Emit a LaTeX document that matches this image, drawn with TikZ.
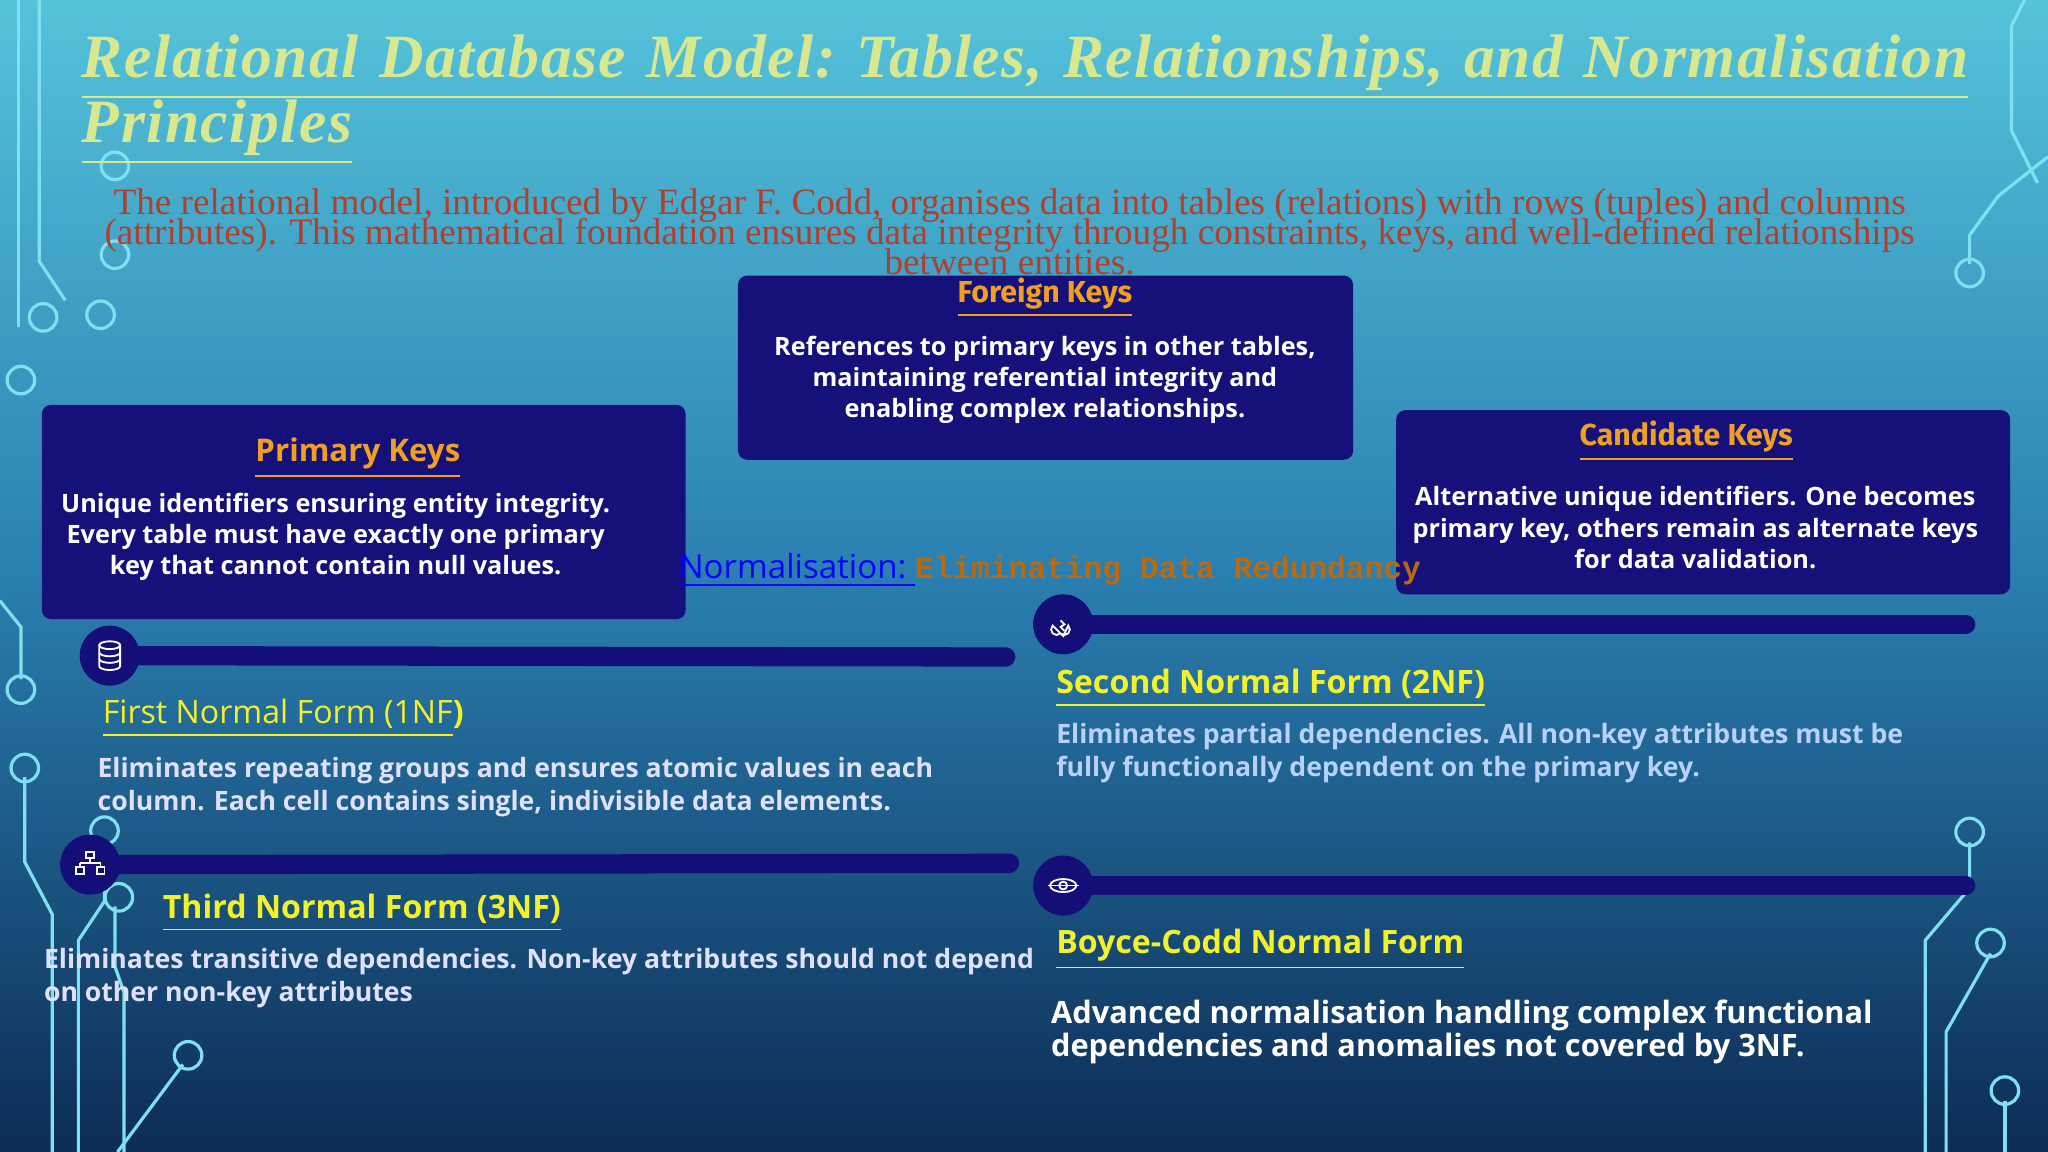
\documentclass[tikz,border=0pt]{standalone}
\usepackage{fontspec}
\setmainfont{Liberation Serif}
\setsansfont{Open Sans}
\setmonofont{Liberation Mono}
\newfontfamily\headf{Fira Sans}
\usetikzlibrary{calc}
\definecolor{navy}{HTML}{15107A}
\definecolor{bar}{HTML}{140F78}
\definecolor{orng}{HTML}{F0A020}
\definecolor{ttl}{HTML}{D8E890}
\definecolor{sub}{HTML}{B0402E}
\definecolor{yel}{HTML}{F2F22A}
\definecolor{cir}{HTML}{7FE0F0}
\definecolor{brn}{HTML}{B86A10}
\definecolor{bgt}{HTML}{55C3DA}
\definecolor{bgm}{HTML}{2A7FB0}
\definecolor{bgb}{HTML}{0C2C55}
\tikzset{
 box/.style={fill=navy,rounded corners=2pt},
 body/.style={text=white,font=\sffamily\bfseries\fontsize{5.5}{6.8}\selectfont,align=center},
 hd/.style={text=orng,font=\headf\bfseries\fontsize{6.6}{8}\selectfont},
 nfh/.style={text=yel,font=\sffamily\fontsize{7}{8.6}\selectfont,anchor=west,inner sep=0},
 nfb/.style={text=white!88!blue,font=\sffamily\bfseries\fontsize{5.8}{7.2}\selectfont,anchor=north west,align=left,inner sep=0},
 barl/.style={draw=bar,line width=4.2pt,line cap=round},
 icon/.style={circle,fill=bar,minimum size=13pt,inner sep=0},
 deco/.style={draw=cir,line width=0.7pt},
 dc/.style={circle,draw=cir,line width=0.7pt,minimum size=6pt,inner sep=0},
}
\begin{document}
\begin{tikzpicture}[x=0.01cm,y=-0.01cm]
\shade[top color=bgt, bottom color=bgb, middle color=bgm] (0,0) rectangle (1568,882);
\useasboundingbox (0,0) rectangle (1568,882);
% decorative circuit
\draw[deco] (14,0)--(14,250); \draw[deco] (30,0)--(30,200)--(50,230);
\draw[deco] (0,460)--(16,480)--(16,520); \draw[deco] (40,882)--(40,700)--(19,660)--(19,595);
\draw[deco] (60,882)--(60,720)--(80,690)--(80,643);
\draw[deco] (95,882)--(95,760)--(88,740)--(88,694); \draw[deco] (90,882)--(140,815);
\draw[deco] (1568,120)--(1530,150)--(1508,180)--(1508,202);
\draw[deco] (1474,882)--(1474,720)--(1508,680)--(1508,645);
\draw[deco] (1490,882)--(1490,790)--(1524,730);
\draw[deco] (1550,0)--(1540,20)--(1540,100)--(1560,140);
\draw[deco] (1535,882)--(1535,843);
\foreach \p [count=\i] in {(88,127),(88,195),(77,241),(16,291),(33,243),(16,528),(19,588),(80,636),(91,687),(144,808),(1508,209),(1508,637),(1524,722),(1535,835)}
  \node[dc] (c\i) at \p {};
% title
\node[anchor=north west,inner sep=0,text width=14.6cm,align=left,text=ttl,
 font=\addfontfeatures{LetterSpace=2.5}\fontsize{13.4}{14.2}\selectfont\bfseries\itshape] (title) at (62,26)
 {\underline{Relational\ Database\ Model:\ Tables,\ Relationships,\ and\ Normalisation}\\\underline{Principles}};
\node[anchor=north,inner sep=0,align=center,text=sub,font=\fontsize{8.1}{8}\selectfont] (subt) at (773,144)
 {The relational model, introduced by Edgar F. Codd, organises data into tables (relations) with rows (tuples) and columns\\[-1.5pt](attributes). This mathematical foundation ensures data integrity through constraints, keys, and well-defined relationships\\[-1.5pt]between entities.};
% boxes
\fill[box] (565,211) rectangle (1036,352);
\node[hd] (fkh) at (800,228) {\underline{Foreign Keys}};
\node[body] (fkb) at (800,291) {References to primary keys in other tables,\\maintaining referential integrity and\\enabling complex relationships.};
\fill[box] (32,310) rectangle (525,474);
\node[hd,font=\sffamily\bfseries\fontsize{6.8}{8}\selectfont] (pkh) at (274,351) {\underline{Primary Keys}};
\node[body] (pkb) at (257,411) {Unique identifiers ensuring entity integrity.\\Every table must have exactly one primary\\key that cannot contain null values.};
\fill[box] (1069,314) rectangle (1539,455);
\node[hd] (ckh) at (1291,338) {\underline{Candidate Keys}};
\node[body] (ckb) at (1298,404) {Alternative unique identifiers. One becomes\\primary key, others remain as alternate keys\\for data validation.};
% normalisation
\node[anchor=west,inner sep=0] (norm) at (519,437) {\textcolor{blue}{\sffamily\fontsize{7.2}{9}\selectfont\underline{Normalisation:\ }}\textcolor{brn}{\ttfamily\bfseries\fontsize{6.8}{9}\selectfont Eliminating Data Redundancy}};
% bars
\node[icon] (i1) at (84,502) {}; \draw[barl] (i1.center)--(770,503) coordinate (e1);
\node[icon] (i2) at (814,478) {}; \draw[barl] (i2.center)--(1505,478) coordinate (e2);
\node[icon] (i3) at (69,662) {}; \draw[barl] (i3.center)--(773,661) coordinate (e3);
\node[icon] (i4) at (814,678) {}; \draw[barl] (i4.center)--(1505,678) coordinate (e4);
\node[icon] at (i1) {}; \node[icon] at (i2) {}; \node[icon] at (i3) {}; \node[icon] at (i4) {};
% icons
\begin{scope}[white,line width=0.4pt]
 \draw (i1)++(-8,-8) -- ++(0,16) arc[start angle=180,end angle=360,x radius=8,y radius=-3] -- ++(0,-16);
 \draw (i1)++(0,-8) ellipse[x radius=8,y radius=3];
 \draw (i1)++(-8,-2.5) arc[start angle=180,end angle=360,x radius=8,y radius=-3];
 \draw (i1)++(-8,2.5) arc[start angle=180,end angle=360,x radius=8,y radius=-3];
 \draw (i2)++(0,9) -- ++(-8,-8) arc[start angle=225,end angle=45,radius=4.2] -- ++(0,0) arc[start angle=135,end angle=-45,radius=4.2] -- cycle;
 \draw (i2)++(-2,-3)--++(3,3)--++(-3,2)--++(3,3);
 \draw (i3)++(-3,-10) rectangle ++(6,5); \draw (i3)++(0,-5)--++(0,4); \draw (i3)++(-8,-1)--++(16,0);
 \draw (i3)++(-8,-1)--++(0,3); \draw (i3)++(8,-1)--++(0,3);
 \draw (i3)++(-11,2) rectangle ++(6,5); \draw (i3)++(5,2) rectangle ++(6,5);
 \draw (i4) ellipse[x radius=10,y radius=5]; \draw (i4) circle[radius=3]; \draw (i4)++(-12,0)--++(24,0);
\end{scope}
% NF texts
\node[nfh] (h1) at (78,550) {\underline{First Normal Form (1NF}\textbf{)}};
\node[nfb] (b1) at (74,579) {Eliminates repeating groups and ensures atomic values in each\\column. Each cell contains single, indivisible data elements.};
\node[nfh,font=\sffamily\bfseries\fontsize{7}{8.6}\selectfont] (h2) at (808,527) {\underline{Second Normal Form (2NF)}};
\node[nfb,text=white!80!blue!90!cyan] (b2) at (808,553) {Eliminates partial dependencies. All non-key attributes must be\\fully functionally dependent on the primary key.};
\node[nfh,font=\sffamily\bfseries\fontsize{7}{8.6}\selectfont] (h3) at (124,699) {\underline{Third Normal Form (3NF)}};
\node[nfb] (b3) at (33,725) {Eliminates transitive dependencies. Non-key attributes should not depend\\on other non-key attributes};
\node[nfh,font=\sffamily\bfseries\fontsize{7}{8.6}\selectfont] (h4) at (808,727) {\underline{Boyce-Codd Normal Form}};
\node[nfb,text=white,font=\sffamily\bfseries\fontsize{6.7}{7.1}\selectfont] (b4) at (804,765) {Advanced normalisation handling complex functional\\dependencies and anomalies not covered by 3NF.};
\end{tikzpicture}
\end{document}
